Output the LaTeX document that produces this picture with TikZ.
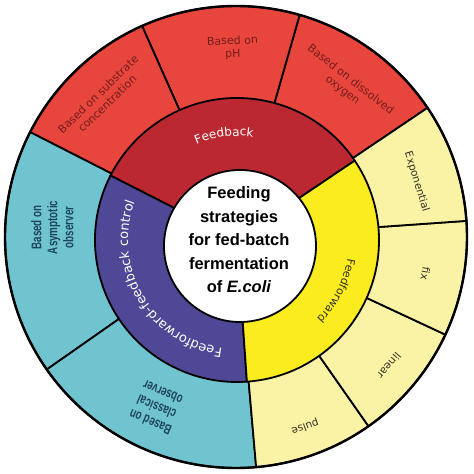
\documentclass[tikz,border=0pt]{standalone}
\usepackage{fontspec}
\setmainfont{DejaVu Sans}
\newfontfamily\hubfont{Liberation Sans}
\newfontfamily\narrowfont[FakeStretch=0.7]{Liberation Sans}
\usetikzlibrary{decorations.text}
\definecolor{fbred}{RGB}{232,70,60}
\definecolor{fbdark}{RGB}{188,40,50}
\definecolor{mixpurple}{RGB}{78,72,150}
\definecolor{mixcyan}{RGB}{112,196,208}
\definecolor{ffyellow}{RGB}{250,236,30}
\definecolor{ffpale}{RGB}{250,242,165}
\definecolor{redtext}{RGB}{115,30,30}
\definecolor{cyantext}{RGB}{30,70,90}
\definecolor{yeltext}{RGB}{50,50,35}
\begin{document}
\begin{tikzpicture}[x=1pt,y=1pt,
	seg/.style={draw=black,line width=1.8pt,line join=round},
	redlbl/.style={text=redtext,align=center,font=\fontsize{11}{13}\selectfont},
	yellbl/.style={text=yeltext,font=\fontsize{10.5}{12.5}\selectfont},
	cyanlbl/.style={text=cyantext,align=center,font=\narrowfont\bfseries\fontsize{14}{16}\selectfont}]
	\useasboundingbox (-236,-237) rectangle (238,237);
	% outer ring
	\foreach \a/\b/\c in {34/74/fbred,74/114/fbred,114/153/fbred,153/215/mixcyan,215/275/mixcyan,
		-85/-55/ffpale,-55/-25/ffpale,-25/4/ffpale,4/34/ffpale}
	\filldraw[seg,fill=\c] (0,0) -- (\a:231pt) arc[start angle=\a,end angle=\b,radius=231pt] -- cycle;
	\draw[line width=2.4pt] (0,0) circle[radius=231pt];
	% middle ring
	\begin{scope}[shift={(1,-3)}]
	\foreach \a/\b/\c in {34/153/fbdark,153/274/mixpurple,274/394/ffyellow}
	\filldraw[seg,fill=\c] (0,0) -- (\a:142pt) arc[start angle=\a,end angle=\b,radius=142pt] -- cycle;
	\path[decorate,decoration={text along path,text align=center,
		text={|\fontsize{12}{14}\selectfont\color{white}|Feedback}}]
		(132:104pt) arc[start angle=132,end angle=62,radius=104pt];
	\path[decorate,decoration={text along path,text align=center,
		text={|\fontsize{13}{15}\selectfont\color{white}|Feedforward-feedback control}}]
		(275:109pt) arc[start angle=275,end angle=147,radius=109pt];
	\path[decorate,decoration={text along path,text align=center,
		text={|\fontsize{11}{13}\selectfont\color{yeltext}|Feedforward}}]
		(10:112pt) arc[start angle=10,end angle=-64,radius=112pt];
	\end{scope}
	% hub
	\filldraw[seg,fill=white] (4,-9) circle[radius=76pt];
	\node[align=center,font=\hubfont\bfseries\fontsize{16.5}{23.5}\selectfont] (hub) at (3,-3)
		{Feeding\\strategies\\for fed-batch\\fermentation\\of \textit{E.coli}};
	% labels
	\node[redlbl,rotate=44] (substrate) at (134:192pt) {Based on substrate\\concentration};
	\node[redlbl,rotate=2] (ph) at (91:189pt) {Based on\\pH};
	\node[redlbl,rotate=-38] (oxygen) at (54:188pt) {Based on dissolved\\oxygen};
	\node[yellbl,rotate=-73] (expo) at (17:189pt) {Exponential};
	\node[yellbl,rotate=-101] (fix) at (-11:193pt) {fix};
	\node[yellbl,rotate=-130] (linear) at (-40:200pt) {linear};
	\node[yellbl,rotate=-160] (pulse) at (-70:202pt) {pulse};
	\node[cyanlbl,rotate=90] (asym) at (177:184pt) {Based on\\Asymptotic\\observer};
	\node[cyanlbl,rotate=157] (classic) at (245:188pt) {Based on\\classical\\observer};
\end{tikzpicture}
\end{document}
